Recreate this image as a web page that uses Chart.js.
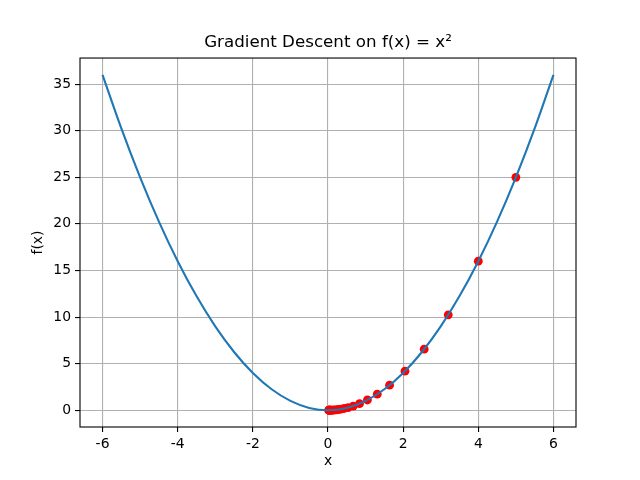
<!DOCTYPE html>
<html>
<head>
<meta charset="utf-8">
<script src="https://cdn.jsdelivr.net/npm/chart.js@4/dist/chart.umd.min.js"></script>
<style>
  html, body { margin: 0; padding: 0; background: #fff; }
  canvas { display: block; }
</style>
</head>
<body>
<canvas id="chart" width="640" height="480"></canvas>
<script>
// f(x) = x^2 curve samples
const curveX = [-6, -5.5, -5, -4.5, -4, -3.5, -3, -2.5, -2, -1.5, -1, -0.5, 0,
                0.5, 1, 1.5, 2, 2.5, 3, 3.5, 4, 4.5, 5, 5.5, 6];
const curveY = [36, 30.25, 25, 20.25, 16, 12.25, 9, 6.25, 4, 2.25, 1, 0.25, 0,
                0.25, 1, 2.25, 4, 6.25, 9, 12.25, 16, 20.25, 25, 30.25, 36];

// gradient descent steps
const stepX = [5, 4, 3.2, 2.56, 2.048, 1.6384, 1.3107, 1.0486, 0.8389, 0.6711,
               0.5369, 0.4295, 0.3436, 0.2749, 0.2199, 0.1759, 0.1407, 0.1126,
               0.0901, 0.0721, 0.0576, 0.0461, 0.0369, 0.0295, 0.0236, 0.0189];
const stepY = [25, 16, 10.24, 6.5536, 4.1943, 2.6844, 1.718, 1.0995, 0.7037, 0.4504,
               0.2882, 0.1845, 0.1181, 0.0756, 0.0484, 0.0309, 0.0198, 0.0127,
               0.0081, 0.0052, 0.0033, 0.0021, 0.0014, 0.0009, 0.0006, 0.0004];

const xTicks = [-6, -4, -2, 0, 2, 4, 6];
const yTicks = [0, 5, 10, 15, 20, 25, 30, 35];

const font = { family: 'DejaVu Sans', size: 13.9 };

// matplotlib-style frame around the plot area
const framePlugin = {
    id: 'frame',
    afterDatasetsDraw(chart) {
        const a = chart.chartArea;
        const ctx = chart.ctx;
        ctx.save();
        ctx.strokeStyle = '#000';
        ctx.lineWidth = 1.1;
        ctx.strokeRect(a.left, a.top, a.right - a.left, a.bottom - a.top);
        ctx.restore();
    }
};

new Chart(document.getElementById('chart'), {
    type: 'line',
    data: {
        datasets: [{
            label: 'f(x)',
            data: curveX.map((x, i) => ({ x: x, y: curveY[i] })),
            borderColor: '#1f77b4',
            borderWidth: 2.1,
            pointRadius: 0,
            cubicInterpolationMode: 'monotone',
            fill: false,
            order: 0
        }, {
            type: 'scatter',
            label: 'steps',
            data: stepX.map((x, i) => ({ x: x, y: stepY[i] })),
            backgroundColor: 'red',
            borderColor: 'red',
            borderWidth: 0,
            pointBackgroundColor: 'red',
            pointBorderColor: 'red',
            pointBorderWidth: 0,
            pointRadius: 4.4,
            order: 1
        }]
    },
    options: {
        responsive: false,
        animation: false,
        layout: { padding: { left: 0, right: 64, top: 0, bottom: 0 } },
        plugins: {
            legend: { display: false },
            tooltip: { enabled: false },
            title: {
                display: true,
                fullSize: false,   // centre over the plot area, like matplotlib
                text: 'Gradient Descent on f(x) = x²',
                color: '#000',
                font: { family: 'DejaVu Sans', size: 16.7, weight: 'normal', lineHeight: 1.2 },
                padding: { top: 33, bottom: 5 }
            }
        },
        scales: {
            x: {
                type: 'linear',
                min: -6.6,
                max: 6.6,
                afterBuildTicks: s => { s.ticks = xTicks.map(v => ({ value: v })); },
                afterFit: s => { s.height = 53; },
                ticks: { color: '#000', font: font, padding: 4, maxRotation: 0 },
                grid: { color: '#b0b0b0', lineWidth: 1.1, tickLength: 5, tickColor: '#000', tickWidth: 1.1 },
                border: { display: false },
                title: { display: true, text: 'x', color: '#000', font: font, padding: { top: 0, bottom: 10 } }
            },
            y: {
                type: 'linear',
                min: -1.8,
                max: 37.8,
                afterBuildTicks: s => { s.ticks = yTicks.map(v => ({ value: v })); },
                afterFit: s => { s.width = 80; },
                ticks: { color: '#000', font: font, padding: 4 },
                grid: { color: '#b0b0b0', lineWidth: 1.1, tickLength: 5, tickColor: '#000', tickWidth: 1.1 },
                border: { display: false },
                title: { display: true, text: 'f(x)', color: '#000', font: font, padding: { top: 30, bottom: 0 } }
            }
        }
    },
    plugins: [framePlugin]
});
</script>
</body>
</html>
